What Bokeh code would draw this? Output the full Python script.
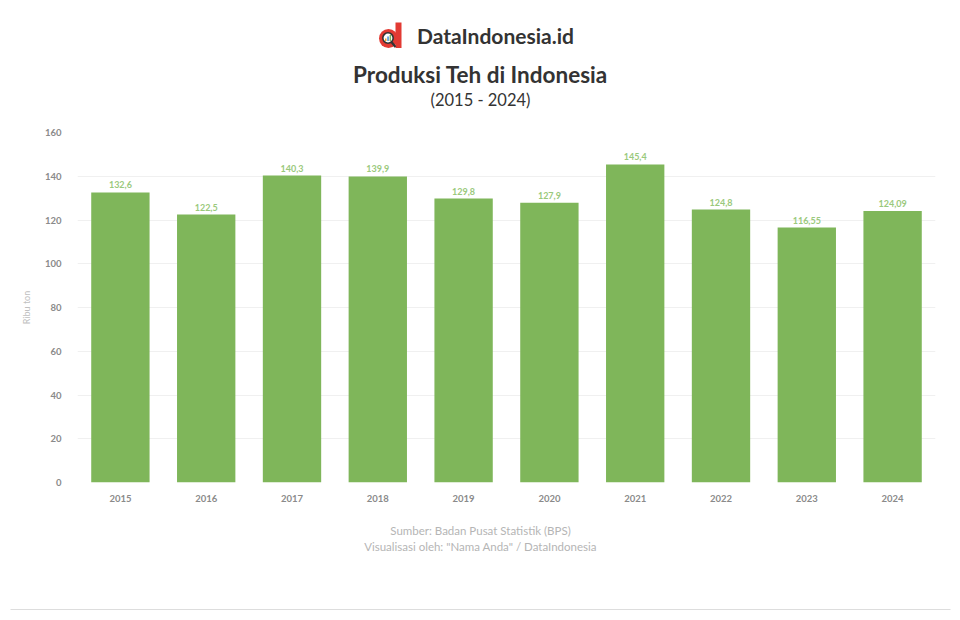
from bokeh.plotting import figure
from bokeh.layouts import column
from bokeh.models import ColumnDataSource, FactorRange, Range1d, LabelSet, FixedTicker
from bokeh.core.properties import value
from bokeh.embed import file_html
from bokeh.resources import INLINE

years = ["2015", "2016", "2017", "2018", "2019", "2020", "2021", "2022", "2023", "2024"]
production = [132.6, 122.5, 140.3, 139.9, 129.8, 127.9, 145.4, 124.8, 116.55, 124.09]
y_ticks = [0, 20, 40, 60, 80, 100, 120, 140, 160]

title = "Produksi Teh di Indonesia"
subtitle = "(2015 - 2024)"
brand = "DataIndonesia.id"
source_line = "Sumber: Badan Pusat Statistik (BPS)"
credit_line = "Visualisasi oleh: \"Nama Anda\" / DataIndonesia"
y_label = "Ribu ton"

labels = [str(v).replace(".", ",") for v in production]
src = ColumnDataSource(dict(year=years, value=production, label=labels))

FONT = "Lato"
W = 956
HEAD_H = 118
MAIN_BOTTOM = 515
FOOT_H = 100
FL, FR, FT, FB = 77, 935, 132, 482  # frame edges on the page


def blank_fig(top, height):
    f = figure(width=W, height=height, x_range=Range1d(0, W), y_range=Range1d(top + height, top),
               output_backend="svg", toolbar_location=None,
               min_border_left=0, min_border_right=0, min_border_top=0, min_border_bottom=0)
    f.axis.visible = False
    f.grid.visible = False
    f.outline_line_color = None
    f.border_fill_color = "white"
    f.background_fill_color = "white"
    f.frame_align = False
    return f


def put_text(f, x, y, text, size, color, style="normal"):
    f.text(x=[x], y=[y], text=[text], text_align="center", text_baseline="middle",
           text_font=value(FONT), text_font_size=size, text_color=color, text_font_style=style)


# header
head = blank_fig(0, HEAD_H)
head.circle(x=[388], y=[38], radius=9.5, fill_color="#e23a33", line_color=None)
head.quad(left=[395], right=[401], top=[22], bottom=[47.5], fill_color="#e23a33", line_color=None)
head.circle(x=[387.5], y=[37.5], radius=5.2, fill_color="white", line_color="#333333", line_width=1.6)
head.segment(x0=[391], y0=[41.5], x1=[395], y1=[46.5], line_color="#333333", line_width=2.2)
head.quad(left=[384.5, 386.8, 389.1], right=[386, 388.3, 390.6], top=[38, 36, 34.5],
          bottom=[40.5, 40.5, 40.5], fill_color=["#f5a623", "#4a90d9", "#7fb65a"], line_color=None)
put_text(head, 495, 35, brand, "21px", "#333333", "bold")
put_text(head, 480, 74, title, "22.5px", "#333333", "bold")
put_text(head, 480, 99, subtitle, "16.5px", "#333333")

# main chart
main_h = MAIN_BOTTOM - HEAD_H
p = figure(x_range=FactorRange(*years, range_padding=0), y_range=Range1d(0, 160),
           width=W, height=main_h, output_backend="svg", toolbar_location=None,
           min_border_left=FL, min_border_right=W - FR, min_border_top=FT - HEAD_H,
           min_border_bottom=MAIN_BOTTOM - FB)
p.outline_line_color = None
p.background_fill_color = "white"
p.border_fill_color = "white"
p.frame_align = False

p.vbar(x="year", top="value", width=0.68, source=src, fill_color="#7fb65a", line_color=None)

lbl = LabelSet(x="year", y="value", text="label", source=src, y_offset=4,
               text_align="center", text_baseline="bottom", text_font=value(FONT),
               text_font_size="9px", text_font_style="bold", text_color="#9ac97c")
p.add_layout(lbl)

p.yaxis.ticker = FixedTicker(ticks=y_ticks)
p.ygrid.ticker = FixedTicker(ticks=y_ticks)
p.xgrid.grid_line_color = None
p.ygrid.grid_line_color = "#f0f0f0"
for ax in (p.xaxis[0], p.yaxis[0]):
    ax.axis_line_color = None
    ax.major_tick_line_color = None
    ax.minor_tick_line_color = None
    ax.major_label_text_font = FONT
    ax.major_label_text_font_size = "9.5px"
    ax.major_label_text_color = "#8a8a8a"
    ax.major_label_text_font_style = "bold"
p.xaxis.major_label_standoff = 6
p.yaxis.major_label_standoff = 10
p.yaxis.axis_label = y_label
p.yaxis.axis_label_text_font = FONT
p.yaxis.axis_label_text_font_size = "9px"
p.yaxis.axis_label_text_font_style = "normal"
p.yaxis.axis_label_text_color = "#c0c0c0"
p.yaxis.axis_label_standoff = 10

# footer
foot = blank_fig(MAIN_BOTTOM, FOOT_H)
put_text(foot, 480, 530, source_line, "11.5px", "#b5b5b5")
put_text(foot, 480, 546, credit_line, "11.5px", "#b5b5b5")
foot.segment(x0=[10], y0=[609], x1=[950], y1=[609], line_color="#dddddd", line_width=1)

layout = column(head, p, foot, spacing=0)
open("out.html", "w").write(file_html(layout, INLINE))
